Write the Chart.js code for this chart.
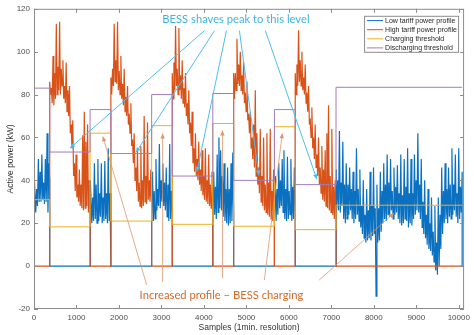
<!DOCTYPE html>
<html>
<head>
<meta charset="utf-8">
<script src="https://cdn.jsdelivr.net/npm/chart.js@4/dist/chart.umd.min.js"></script>
<style>
  html, body { margin: 0; padding: 0; background: #fff; }
  canvas { display: block; }
</style>
</head>
<body>
<canvas id="c" width="474" height="335"></canvas>
<script>
// ---- Tariff periods over one week of 1-minute samples ----
const periodStart  = [0, 370, 1320, 1810, 2770, 3255, 4210, 4700, 5660, 6150, 7110];
const periodEnd    = 10080;
const periodTariff = ['low', 'high', 'low', 'high', 'low', 'high', 'low', 'high', 'low', 'high', 'low'];

// Battery thresholds for each period (kW)
const chargingThreshold    = [31, 18.3, 62, 21, 65.5, 19.5, 66.5, 18.6, 65, 17, 28.4];
const dischargingThreshold = [83, 53.2, 73, 52.5, 80, 42, 80.5, 40, 73, 38, 83.4];

// Active power readings inside each period (kW), evenly spaced in time
const lowA  = [22, 40, 25, 36, 28, 50, 30, 44, 30, 52, 31, 39, 29, 50, 30, 62, 25, 48, 40];
const highA = [86, 80, 83, 76, 98, 75, 90, 78, 113, 80, 93, 82, 114, 80, 92, 84, 96, 78, 84, 76,
               95, 72, 82, 70, 84, 62, 66, 55, 68, 42, 48, 35, 52, 32, 38, 30, 45, 28, 38, 27,
               61, 26, 72, 27, 58, 28, 66, 25, 40, 22];
const lowB  = [22, 40, 20, 32, 21, 48, 22, 38, 20, 50, 21, 34, 23, 48, 20, 32, 21, 49, 22, 34, 20, 55, 21, 34, 24];
const highB = [88, 80, 92, 84, 113, 86, 96, 85, 114, 82, 91, 80, 98, 78, 85, 75, 92, 72, 79, 70,
               84, 66, 71, 62, 76, 56, 59, 48, 62, 40, 46, 35, 54, 30, 39, 28, 56, 27, 40, 28,
               70, 30, 42, 29, 67, 31, 40, 30, 45, 28];
const lowC  = [24, 44, 21, 35, 22, 50, 26, 36, 28, 57, 27, 40, 30, 48, 28, 39, 26, 46, 23, 38, 21, 57, 22, 35, 24];
const highC = [90, 78, 95, 82, 112, 84, 92, 80, 111, 82, 89, 78, 96, 76, 83, 74, 90, 70, 76, 66,
               82, 62, 67, 56, 72, 48, 55, 44, 62, 42, 50, 40, 58, 38, 45, 35, 54, 33, 42, 31,
               55, 30, 40, 29, 52, 28, 38, 27, 44, 28];
const lowD  = [26, 44, 24, 37, 22, 52, 25, 60, 27, 54, 26, 42, 23, 48, 21, 36, 20, 46, 19, 36, 20, 48, 21, 53, 24];
const highD = [90, 78, 90, 82, 106, 85, 94, 84, 100, 82, 89, 80, 95, 76, 81, 72, 86, 68, 71, 62,
               72, 55, 60, 50, 66, 46, 82, 42, 62, 38, 46, 34, 64, 30, 42, 28, 60, 26, 38, 25,
               62, 24, 39, 23, 64, 22, 35, 21, 45, 22];
const lowE  = [22, 42, 21, 36, 24, 48, 27, 40, 28, 50, 25, 54, 22, 36, 21, 51, 22, 35, 24, 50, 21, 37, 22, 46, 24];
const highE = [90, 80, 94, 84, 110, 86, 96, 84, 100, 82, 88, 80, 94, 76, 81, 72, 84, 66, 69, 60,
               74, 55, 60, 50, 66, 46, 52, 42, 60, 38, 46, 34, 56, 31, 45, 30, 54, 28, 62, 27,
               75, 26, 42, 25, 64, 24, 37, 22, 40, 21];
const lowF  = [45, 22, 40, 26, 63, 25, 39, 28, 58, 22, 38, 20, 48, 22, 38, 24, 46, 26, 36, 22,
               44, 20, 35, 22, 55, 24, 36, 21, 45, 18, 28, 15, 40, 13, 24, 11, 36, 12, 26, 13,
               44, 12, 28, 14, 46, 15, 27, -14, 38, 11, 27, 12, 44, 16, 35, 20, 48, 22, 38, 21,
               52, 24, 39, 23, 50, 26, 35, 22, 46, 24, 37, 25, 47, 22, 34, 20, 52, 19, 33, 20,
               50, 22, 37, 21, 55, 18, 34, 20, 50, 19, 34, 22, 52, 24, 40, 26, 62, 25, 38, 22,
               50, 18, 30, 15, 40, 13, 24, 10, 36, 8, 20, 7, 32, 5, 16, 2, 28, -2, 11, -4,
               32, 0, 24, 8, 46, 15, 35, 20, 48, 22, 36, 20, 46, 23, 38, 22, 55, 24, 38, 26,
               52, 23, 34, 20, 55, 22, 37, 25, 44];
const periodValues = [lowA, highA, lowB, highB, lowC, highC, lowD, highD, lowE, highE, lowF];

// Axis ticks
const xTickValues = [0, 1000, 2000, 3000, 4000, 5000, 6000, 7000, 8000, 9000, 10000];
const yTickStep = 20;

// Annotations (data units)
const peakNoteText   = 'BESS shaves peak to this level';
const peakNoteAt     = [4754, 115.2];
const peakArrowFrom  = [[4014, 109.8], [4249, 109.8], [4531, 109.8], [4836, 109.8], [5446, 109.8]];
const peakArrowTo    = [[847, 55], [2400, 53], [3835, 44], [5294, 42.3], [6659, 40.5]];
const chargeNoteText  = 'Increased profile \u2013 BESS charging';
const chargeNoteAt    = [4413, -13.5];
const chargeArrowFrom = [[2653, -8.8], [3028, -7.4], [4437, -5.6], [5423, -6.5], [6714, -6.5]];
const chargeArrowTo   = [[1620, 60.5], [3028, 61.9], [4437, 63.3], [5845, 61.9], [8474, 24.7]];

// ---- Series construction ----
function periodEndOf(k) {
  return k + 1 < periodStart.length ? periodStart[k + 1] : periodEnd;
}
function buildProfile(tariff) {
  const pts = [];
  periodStart.forEach((s, k) => {
    const e = periodEndOf(k);
    pts.push({ x: s, y: 0 });
    if (periodTariff[k] === tariff) {
      const vals = periodValues[k];
      const step = (e - s) / (vals.length - 1);
      vals.forEach((v, i) => pts.push({ x: s + i * step, y: v }));
    }
    pts.push({ x: e, y: 0 });
  });
  return pts;
}
// each level holds from its period start until the next period start
function buildSteps(levels) {
  const pts = periodStart.map((s, k) => ({ x: s, y: levels[k] }));
  pts.push({ x: periodEnd, y: levels[levels.length - 1] });
  return pts;
}

// ---- Plugins: axes box, annotations, legend ----
const framePlugin = {
  id: 'frame',
  afterDatasetsDraw(chart) {
    const { ctx, chartArea: a, scales: { x, y } } = chart;
    ctx.save();
    ctx.strokeStyle = '#8c8c8c';
    ctx.lineWidth = 1;
    ctx.strokeRect(a.left + 0.5, a.top + 0.5, a.right - a.left - 1, a.bottom - a.top - 1);
    ctx.beginPath();
    x.ticks.forEach(t => {
      const px = Math.round(x.getPixelForValue(t.value)) + 0.5;
      ctx.moveTo(px, a.bottom); ctx.lineTo(px, a.bottom - 4);
      ctx.moveTo(px, a.top);    ctx.lineTo(px, a.top + 4);
    });
    y.ticks.forEach(t => {
      const py = Math.round(y.getPixelForValue(t.value)) + 0.5;
      ctx.moveTo(a.left, py);  ctx.lineTo(a.left + 4, py);
      ctx.moveTo(a.right, py); ctx.lineTo(a.right - 4, py);
    });
    ctx.stroke();
    ctx.restore();
  }
};

function arrow(ctx, x1, y1, x2, y2, color, width, head) {
  ctx.strokeStyle = color;
  ctx.fillStyle = color;
  ctx.lineWidth = width;
  ctx.beginPath();
  ctx.moveTo(x1, y1);
  ctx.lineTo(x2, y2);
  ctx.stroke();
  const ang = Math.atan2(y2 - y1, x2 - x1);
  const c = Math.cos(ang), s = Math.sin(ang), w = head * 0.45;
  ctx.beginPath();
  ctx.moveTo(x2, y2);
  ctx.lineTo(x2 - head * c + w * s, y2 - head * s - w * c);
  ctx.lineTo(x2 - head * c - w * s, y2 - head * s + w * c);
  ctx.closePath();
  ctx.fill();
}

const notesPlugin = {
  id: 'notes',
  afterDraw(chart) {
    const { ctx, scales: { x, y } } = chart;
    const P = p => [x.getPixelForValue(p[0]), y.getPixelForValue(p[1])];
    ctx.save();
    peakArrowFrom.forEach((f, i) => {
      const a = P(f), b = P(peakArrowTo[i]);
      arrow(ctx, a[0], a[1], b[0], b[1], '#4dbeee', 1, 5);
    });
    chargeArrowFrom.forEach((f, i) => {
      const a = P(f), b = P(chargeArrowTo[i]);
      arrow(ctx, a[0], a[1], b[0], b[1], '#e0956a', 0.8, 5);
    });
    ctx.textAlign = 'center';
    ctx.textBaseline = 'middle';
    ctx.font = '11.2px Lato';
    let p = P(peakNoteAt);
    ctx.fillStyle = '#3fb2e4';
    ctx.fillText(peakNoteText, p[0], p[1]);
    p = P(chargeNoteAt);
    ctx.fillStyle = '#d4692a';
    ctx.fillText(chargeNoteText, p[0], p[1]);
    ctx.restore();
  }
};

const legendPlugin = {
  id: 'boxLegend',
  afterDraw(chart) {
    const { ctx, chartArea: a } = chart;
    const w = 95, h = 37;
    const x0 = a.right - 5 - w, y0 = a.top + 7;
    ctx.save();
    ctx.fillStyle = '#fff';
    ctx.fillRect(x0, y0, w, h);
    ctx.strokeStyle = '#8c8c8c';
    ctx.lineWidth = 1;
    ctx.strokeRect(x0 + 0.5, y0 + 0.5, w - 1, h - 1);
    ctx.font = '7px "Liberation Sans"';
    ctx.textBaseline = 'middle';
    ctx.textAlign = 'left';
    chart.data.datasets.forEach((ds, i) => {
      const yy = y0 + 4.8 + i * 9.1;
      ctx.strokeStyle = ds.borderColor;
      ctx.beginPath();
      ctx.moveTo(x0 + 3, yy);
      ctx.lineTo(x0 + 19, yy);
      ctx.stroke();
      ctx.fillStyle = '#262626';
      ctx.fillText(ds.label, x0 + 21, yy);
    });
    ctx.restore();
  }
};

// ---- Chart ----
const tickFont = { family: 'Liberation Sans', size: 8 };
const titleFont = { family: 'Liberation Sans', size: 8.5 };

new Chart(document.getElementById('c').getContext('2d'), {
  type: 'line',
  data: {
    datasets: [
      { label: 'Low tariff power profile', data: buildProfile('low'), borderColor: '#0a70bf', borderWidth: 1.2, pointRadius: 0, tension: 0, order: 4 },
      { label: 'High tariff power profile', data: buildProfile('high'), borderColor: '#d95319', borderWidth: 1.2, pointRadius: 0, tension: 0, order: 3 },
      { label: 'Charging threshold', data: buildSteps(chargingThreshold), borderColor: '#edb120', borderWidth: 1, pointRadius: 0, stepped: 'before', order: 2 },
      { label: 'Discharging threshold', data: buildSteps(dischargingThreshold), borderColor: '#a27bbd', borderWidth: 1, pointRadius: 0, stepped: 'before', order: 1 }
    ]
  },
  options: {
    responsive: false,
    animation: false,
    events: [],
    layout: { padding: { top: 8, right: 9, left: 0, bottom: 0 } },
    plugins: { legend: { display: false }, tooltip: { enabled: false } },
    scales: {
      x: {
        type: 'linear',
        min: 0,
        max: 10125,
        afterFit(s) { s.height = 26; },
        afterBuildTicks(s) { s.ticks = xTickValues.map(v => ({ value: v })); },
        grid: { display: false, drawTicks: false },
        border: { display: false },
        ticks: { autoSkip: false, maxRotation: 0, padding: 4, color: '#4d4d4d', font: tickFont, callback: v => String(v) },
        title: { display: true, text: 'Samples (1min. resolution)', color: '#333', font: titleFont, padding: { top: 0, bottom: 2 } }
      },
      y: {
        min: -20,
        max: 120,
        afterFit(s) { s.width = 34; },
        grid: { display: false, drawTicks: false },
        border: { display: false },
        ticks: { stepSize: yTickStep, padding: 4, color: '#4d4d4d', font: tickFont, callback: v => String(v) },
        title: { display: true, text: 'Active power (kW)', color: '#333', font: titleFont, padding: { top: 6, bottom: 0 } }
      }
    }
  },
  plugins: [framePlugin, notesPlugin, legendPlugin]
});
</script>
</body>
</html>
